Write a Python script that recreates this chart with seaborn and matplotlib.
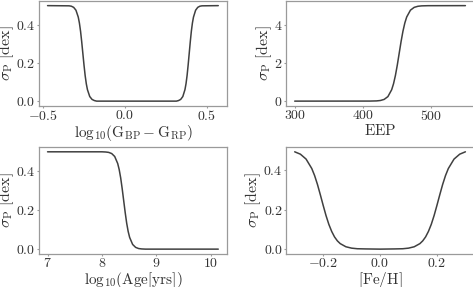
import numpy as np
import pandas as pd
import matplotlib
matplotlib.use("Agg")
import matplotlib.pyplot as plt
import seaborn as sns

# ---- data ----
color_x = [-0.470, -0.339, -0.325, -0.311, -0.297, -0.283, -0.276, -0.269, -0.262,
           -0.255, -0.248, -0.241, -0.234, -0.227, -0.213, -0.199, -0.185, -0.171,
           0.315, 0.328, 0.341, 0.354, 0.367, 0.3735, 0.380, 0.3865, 0.393, 0.3995,
           0.406, 0.4125, 0.419, 0.432, 0.445, 0.458, 0.471, 0.570]
color_sig = [0.500, 0.499, 0.497, 0.491, 0.476, 0.440, 0.409, 0.366, 0.311,
             0.250, 0.189, 0.134, 0.091, 0.060, 0.024, 0.009, 0.003, 0.000,
             0.000, 0.003, 0.009, 0.024, 0.060, 0.091, 0.134, 0.189, 0.250, 0.311,
             0.366, 0.409, 0.440, 0.476, 0.491, 0.497, 0.499, 0.500]

eep_x = [300, 410, 420, 425.5, 431, 436.5, 442, 444.75, 447.5, 450.25, 453,
         455.75, 458.5, 461.25, 464, 469.5, 475, 480.5, 486, 495, 550]
eep_sig = [0.000, 0.003, 0.012, 0.033, 0.090, 0.237, 0.596, 0.912, 1.345, 1.888, 2.500,
           3.112, 3.655, 4.088, 4.404, 4.763, 4.910, 4.967, 4.988, 4.997, 5.000]

age_x = [7.00, 8.00, 8.07, 8.125, 8.18, 8.235, 8.29, 8.3175, 8.345, 8.3725, 8.40,
         8.4275, 8.455, 8.4825, 8.51, 8.565, 8.62, 8.675, 8.73, 8.80, 10.14]
age_sig = [0.500, 0.500, 0.499, 0.497, 0.491, 0.476, 0.440, 0.409, 0.366, 0.311, 0.250,
           0.189, 0.134, 0.091, 0.060, 0.024, 0.009, 0.003, 0.001, 0.000, 0.000]

feh_x = [-0.30, -0.28, -0.26, -0.24, -0.23, -0.22, -0.21, -0.20, -0.19, -0.18, -0.17,
         -0.16, -0.15, -0.14, -0.12, -0.10, -0.08, -0.05, 0.00,
         0.05, 0.08, 0.10, 0.12, 0.14, 0.15, 0.16, 0.17, 0.18, 0.19, 0.20,
         0.21, 0.22, 0.23, 0.24, 0.26, 0.28, 0.30]
feh_sig = [0.495, 0.483, 0.458, 0.410, 0.374, 0.329, 0.277, 0.223, 0.171, 0.126, 0.090,
           0.062, 0.042, 0.028, 0.012, 0.005, 0.002, 0.001, 0.000,
           0.001, 0.002, 0.005, 0.012, 0.028, 0.042, 0.062, 0.090, 0.126, 0.171, 0.223,
           0.277, 0.329, 0.374, 0.410, 0.458, 0.483, 0.495]

xlabels = [r"$\mathrm{log}_{10}(\mathrm{G}_\mathrm{BP}-\mathrm{G}_\mathrm{RP})$",
           r"$\mathrm{EEP}$",
           r"$\mathrm{log}_{10}(\mathrm{Age[yrs]})$",
           r"$[\mathrm{Fe/H}]$"]
ylabel = r"$\sigma_\mathrm{P}\ [\mathrm{dex}]$"
xticks = [[-0.5, 0.0, 0.5], [300, 400, 500], [7, 8, 9, 10], [-0.2, 0.0, 0.2]]
yticks = [[0.0, 0.2, 0.4], [0, 2, 4], [0.0, 0.2, 0.4], [0.0, 0.2, 0.4]]

# ---- style ----
sns.set_style("ticks")
plt.rcParams.update({
    "font.family": "serif",
    "font.serif": ["cmr10", "DejaVu Serif"],
    "mathtext.fontset": "cm",
    "axes.formatter.use_mathtext": True,
    "axes.unicode_minus": True,
    "axes.edgecolor": "#9a9a9a",
    "axes.linewidth": 0.9,
    "xtick.color": "#9a9a9a",
    "ytick.color": "#9a9a9a",
    "xtick.labelcolor": "#333333",
    "ytick.labelcolor": "#333333",
    "xtick.major.size": 1.5,
    "ytick.major.size": 1.5,
    "xtick.major.width": 0.8,
    "ytick.major.width": 0.8,
    "xtick.major.pad": 1.0,
    "ytick.major.pad": 1.0,
    "xtick.labelsize": 10,
    "ytick.labelsize": 10,
    "axes.labelsize": 11,
    "axes.labelcolor": "#333333",
})

fig = plt.figure(figsize=(4.73, 2.87), dpi=100)
positions = [[0.0825, 0.631, 0.397, 0.366],
             [0.605, 0.631, 0.397, 0.366],
             [0.0825, 0.115, 0.397, 0.373],
             [0.605, 0.115, 0.397, 0.373]]
datasets = [(color_x, color_sig), (eep_x, eep_sig), (age_x, age_sig), (feh_x, feh_sig)]

for i, (pos, (xs, ys)) in enumerate(zip(positions, datasets)):
    ax = fig.add_axes(pos)
    df = pd.DataFrame({"x": xs, "y": ys})
    sns.lineplot(data=df, x="x", y="y", ax=ax, color="#404040", linewidth=1.1)
    ax.set_xticks(xticks[i])
    ax.set_yticks(yticks[i])
    ax.set_xlabel(xlabels[i], labelpad=0)
    ax.set_ylabel(ylabel, labelpad=0, fontsize=11.5)

fig.savefig("out.png", dpi=100)
